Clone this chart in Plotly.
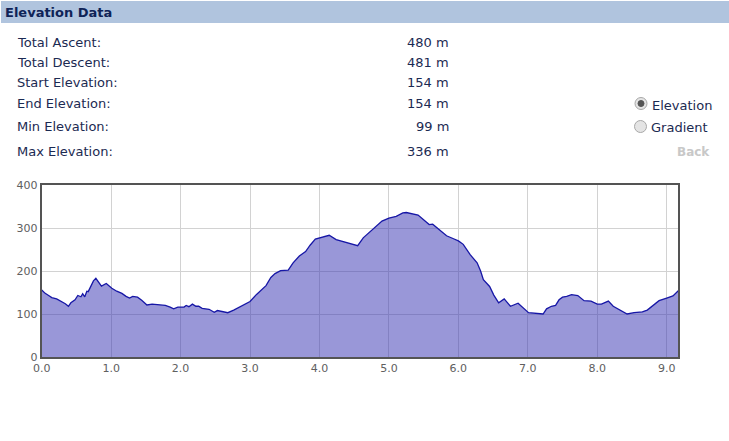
import plotly.graph_objects as go

W, H = 729, 441
FONT = "DejaVu Sans"
NAVY = "#1b2a52"

stat_labels = ["Total Ascent:", "Total Descent:", "Start Elevation:",
               "End Elevation:", "Min Elevation:", "Max Elevation:"]
stat_values = ["480 m", "481 m", "154 m", "154 m", "99 m", "336 m"]
stat_rows = [42.5, 62.5, 82.5, 103.5, 126.5, 151.5]

distance = [0, .05, .1, .145, .215, .29, .34, .385, .42, .48, .52, .565, .59, .62, .65, .67, .705, .745, .78, .815,
            .86, .93, 1.01, 1.08, 1.155, 1.215, 1.265, 1.31, 1.38, 1.44, 1.515, 1.59, 1.78, 1.85, 1.9, 1.96, 2.05,
            2.08, 2.12, 2.17, 2.22, 2.26, 2.31, 2.41, 2.485, 2.53, 2.61, 2.68, 2.765, 2.85, 3.0, 3.09, 3.23, 3.3,
            3.36, 3.44, 3.55, 3.62, 3.71, 3.8, 3.865, 3.94, 4.14, 4.24, 4.55, 4.63, 4.74, 4.83, 4.9, 5.0, 5.105,
            5.2, 5.25, 5.42, 5.5, 5.58, 5.63, 5.74, 5.83, 5.93, 6.0, 6.07, 6.17, 6.27, 6.32, 6.36, 6.45, 6.51,
            6.58, 6.66, 6.75, 6.86, 6.94, 7.01, 7.22, 7.27, 7.34, 7.4, 7.45, 7.5, 7.56, 7.63, 7.72, 7.81, 7.91,
            8.0, 8.06, 8.16, 8.23, 8.31, 8.43, 8.53, 8.65, 8.72, 8.82, 8.89, 9.0, 9.09, 9.167]
elevation = [156, 148, 143, 138, 135, 129, 124, 118, 126, 133, 143, 140, 147, 140, 153, 152, 164, 177, 183, 174,
             165, 171, 160, 153, 148, 141, 137, 141, 139, 132, 121, 123, 120, 116, 112, 116, 116,
             120, 117, 123, 118, 118, 113, 111, 104, 108, 106, 103, 109, 116, 129, 145, 166, 185,
             194, 201, 202, 219, 235, 245, 260, 274, 283, 273, 259, 277, 293, 307, 316, 323, 327,
             335, 336, 330, 318, 308, 309, 293, 282, 275, 270, 262, 238, 219, 200, 180, 164, 144,
             126, 135, 118, 125, 113, 103, 100, 112, 118, 120, 133, 139, 141, 145, 143, 131, 130,
             123, 123, 130, 118, 110, 100, 103, 105, 109, 121, 131, 137, 142, 154]


def px(x):
    return x / W


def py(y):
    return 1 - y / H


def label(text, x, y, anchor="left", color=NAVY, size=13, bold=False):
    return dict(text=f"<b>{text}</b>" if bold else text, x=px(x), y=py(y), xref="paper", yref="paper",
                xanchor=anchor, yanchor="middle", showarrow=False, borderpad=0, borderwidth=0,
                font=dict(family=FONT, size=size, color=color))


annotations = [label("Elevation Data", 5, 12.5, color="#0f2357", size=13, bold=True)]
for name, val, row in zip(stat_labels, stat_values, stat_rows):
    annotations.append(label(name, 17, row))
    annotations.append(label(val, 449, row, anchor="right"))
annotations.append(label("Elevation", 652, 105))
annotations.append(label("Gradient", 651, 128))
annotations.append(label("Back", 710, 151.5, anchor="right", color="#c8c8c8", size=12, bold=True))


def circle(cx, cy, r, fill, line):
    return dict(type="circle", xref="paper", yref="paper", x0=px(cx - r), x1=px(cx + r), y0=py(cy + r), y1=py(cy - r),
                fillcolor=fill, line=dict(color=line, width=1))


shapes = [
    dict(type="rect", xref="paper", yref="paper", x0=px(1), x1=1, y0=py(23), y1=py(1),
         fillcolor="#b0c4de", line=dict(width=0), layer="below"),
    circle(641, 103.5, 6, "#e4e4e4", "#a8a8a8"),
    circle(641, 103.5, 3, "#555555", "#555555"),
    circle(640.5, 126.5, 6, "#e4e4e4", "#a8a8a8"),
]

fig = go.Figure(go.Scatter(x=distance, y=elevation, mode="lines", fill="tozeroy",
                           fillcolor="rgba(60,55,180,0.52)", line=dict(color="#1717a6", width=1.3),
                           hoverinfo="skip"))
fig.update_layout(
    width=W, height=H, margin=dict(l=0, r=0, t=0, b=0, pad=0, autoexpand=False), showlegend=False,
    paper_bgcolor="white", plot_bgcolor="white",
    annotations=annotations, shapes=shapes,
    xaxis=dict(domain=[px(41.7), px(678.3)], range=[0, 9.167], dtick=1, tickformat=".1f",
               gridcolor="#d2d2d2", gridwidth=1, zeroline=False, showline=True, linecolor="#545454",
               linewidth=2, mirror=True, ticks="", tickfont=dict(family=FONT, size=11, color="#606060")),
    yaxis=dict(domain=[py(357), py(185)], range=[0, 400], dtick=100,
               gridcolor="#d2d2d2", gridwidth=1, zeroline=False, showline=True, linecolor="#545454",
               linewidth=2, mirror=True, ticks="", tickfont=dict(family=FONT, size=11, color="#606060")),
)

# page margin would shift and clip the figure
fig.write_html("out.html", config=dict(displayModeBar=False), post_script="document.body.style.margin = '0';")
